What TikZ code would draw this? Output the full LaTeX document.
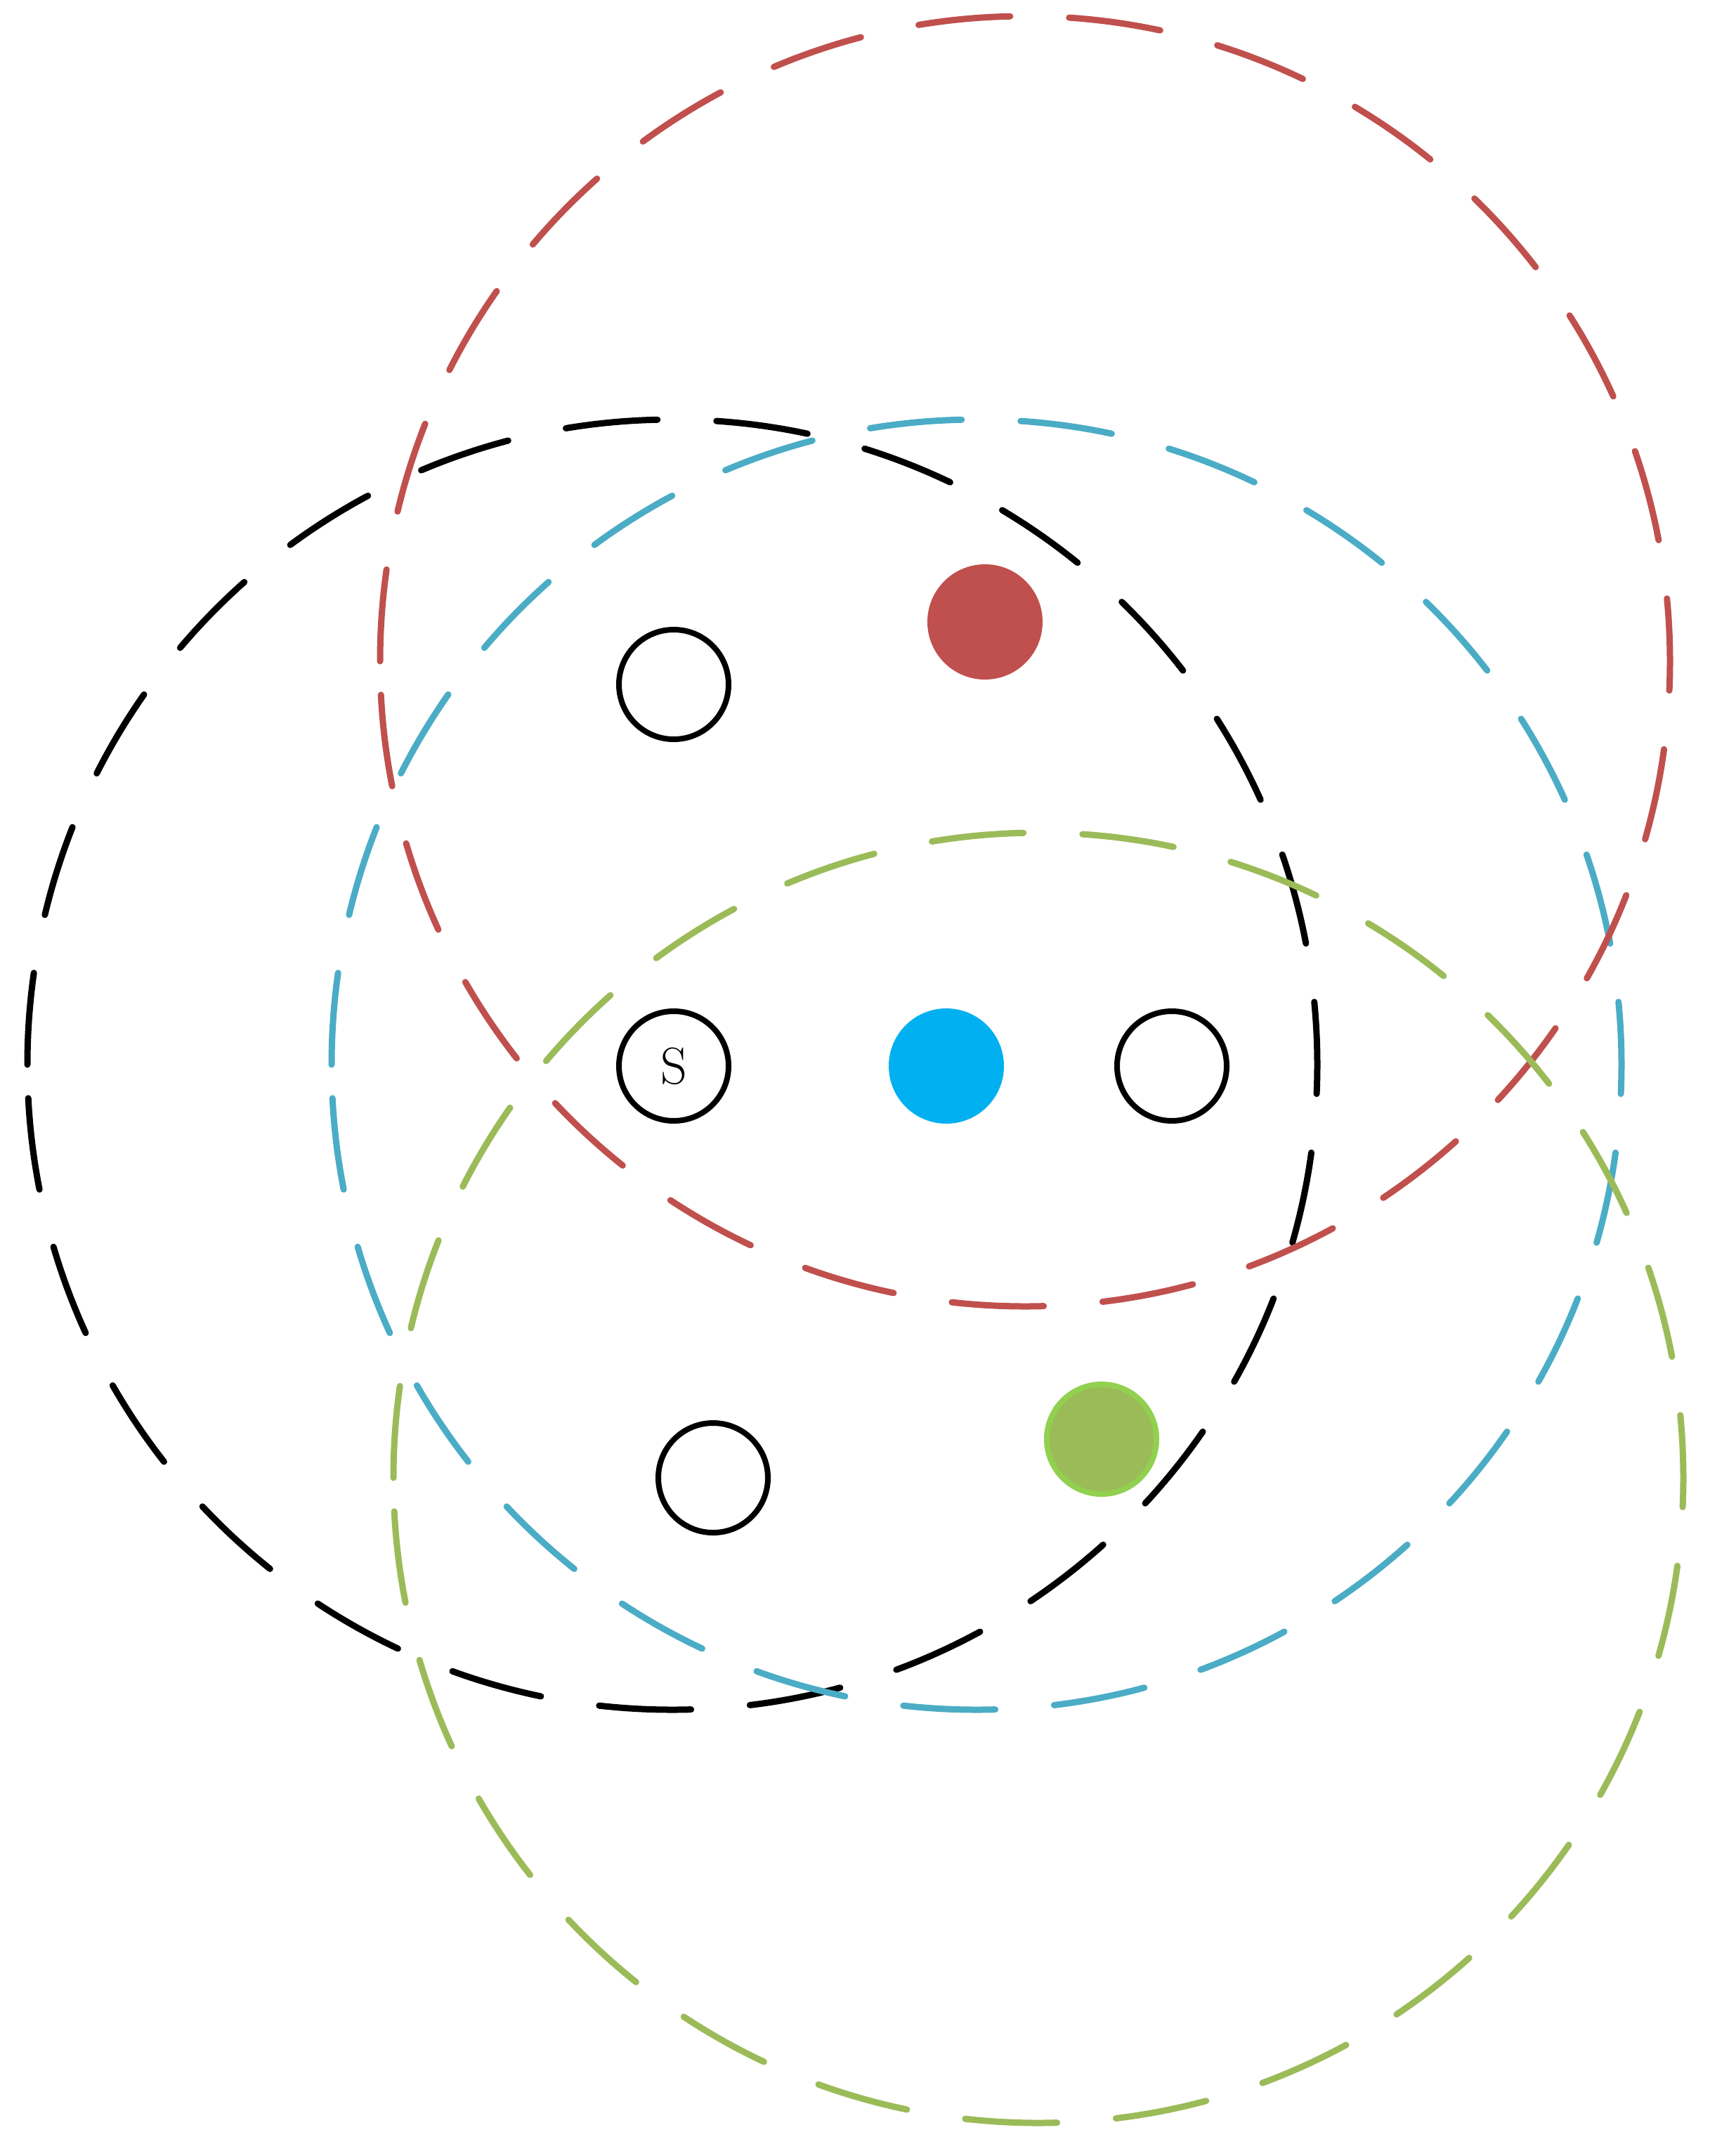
\documentclass[tikz,border=0pt]{standalone}
\usepackage{tikz}
\usepackage{xcolor}
\definecolor{ringred}{HTML}{C0504D}
\definecolor{ringblue}{HTML}{4BACC6}
\definecolor{ringgreen}{HTML}{9BBB59}
\definecolor{dotblue}{HTML}{00B0F0}
\definecolor{dotgreenrim}{HTML}{92D050}

\begin{document}
\begin{tikzpicture}[
    coverage/.style={line width=0.09cm, line cap=round, dash pattern=on 1.31cm off 0.84cm},
    ring/.style={circle, draw, line width=0.08cm, minimum size=1.56cm, inner sep=0pt},
    dot/.style={circle, minimum size=1.64cm, inner sep=0pt}
]

    % Frame
    \useasboundingbox (0,0) rectangle (24.70,-30.51);

    % Coverage circles
    \draw[coverage, black]     (9.57,-15.15)  ++(-9.18,0) arc[start angle=180, end angle=-180, radius=9.18];
    \draw[coverage, ringblue]  (13.90,-15.15) ++(-9.18,0) arc[start angle=180, end angle=-180, radius=9.18];
    \draw[coverage, ringred]   (14.59,-9.41)  ++(-9.18,0) arc[start angle=180, end angle=-180, radius=9.18];
    \draw[coverage, ringgreen] (14.78,-21.03) ++(-9.18,0) arc[start angle=180, end angle=-180, radius=9.18];

    % Nodes
    \node[ring] (upper) at (9.59,-9.74) {};
    \node[ring, font=\fontsize{21}{24}\selectfont] (source) at (9.59,-15.17) {S};
    \node[ring] (right) at (16.68,-15.17) {};
    \node[ring] (lower) at (10.15,-21.03) {};
    \node[dot, fill=ringred] (red) at (14.02,-8.85) {};
    \node[dot, fill=dotblue] (blue) at (13.47,-15.17) {};
    \node[dot, fill=ringgreen, draw=dotgreenrim, line width=0.08cm, minimum size=1.56cm] (green) at (15.68,-20.48) {};
\end{tikzpicture}
\end{document}
